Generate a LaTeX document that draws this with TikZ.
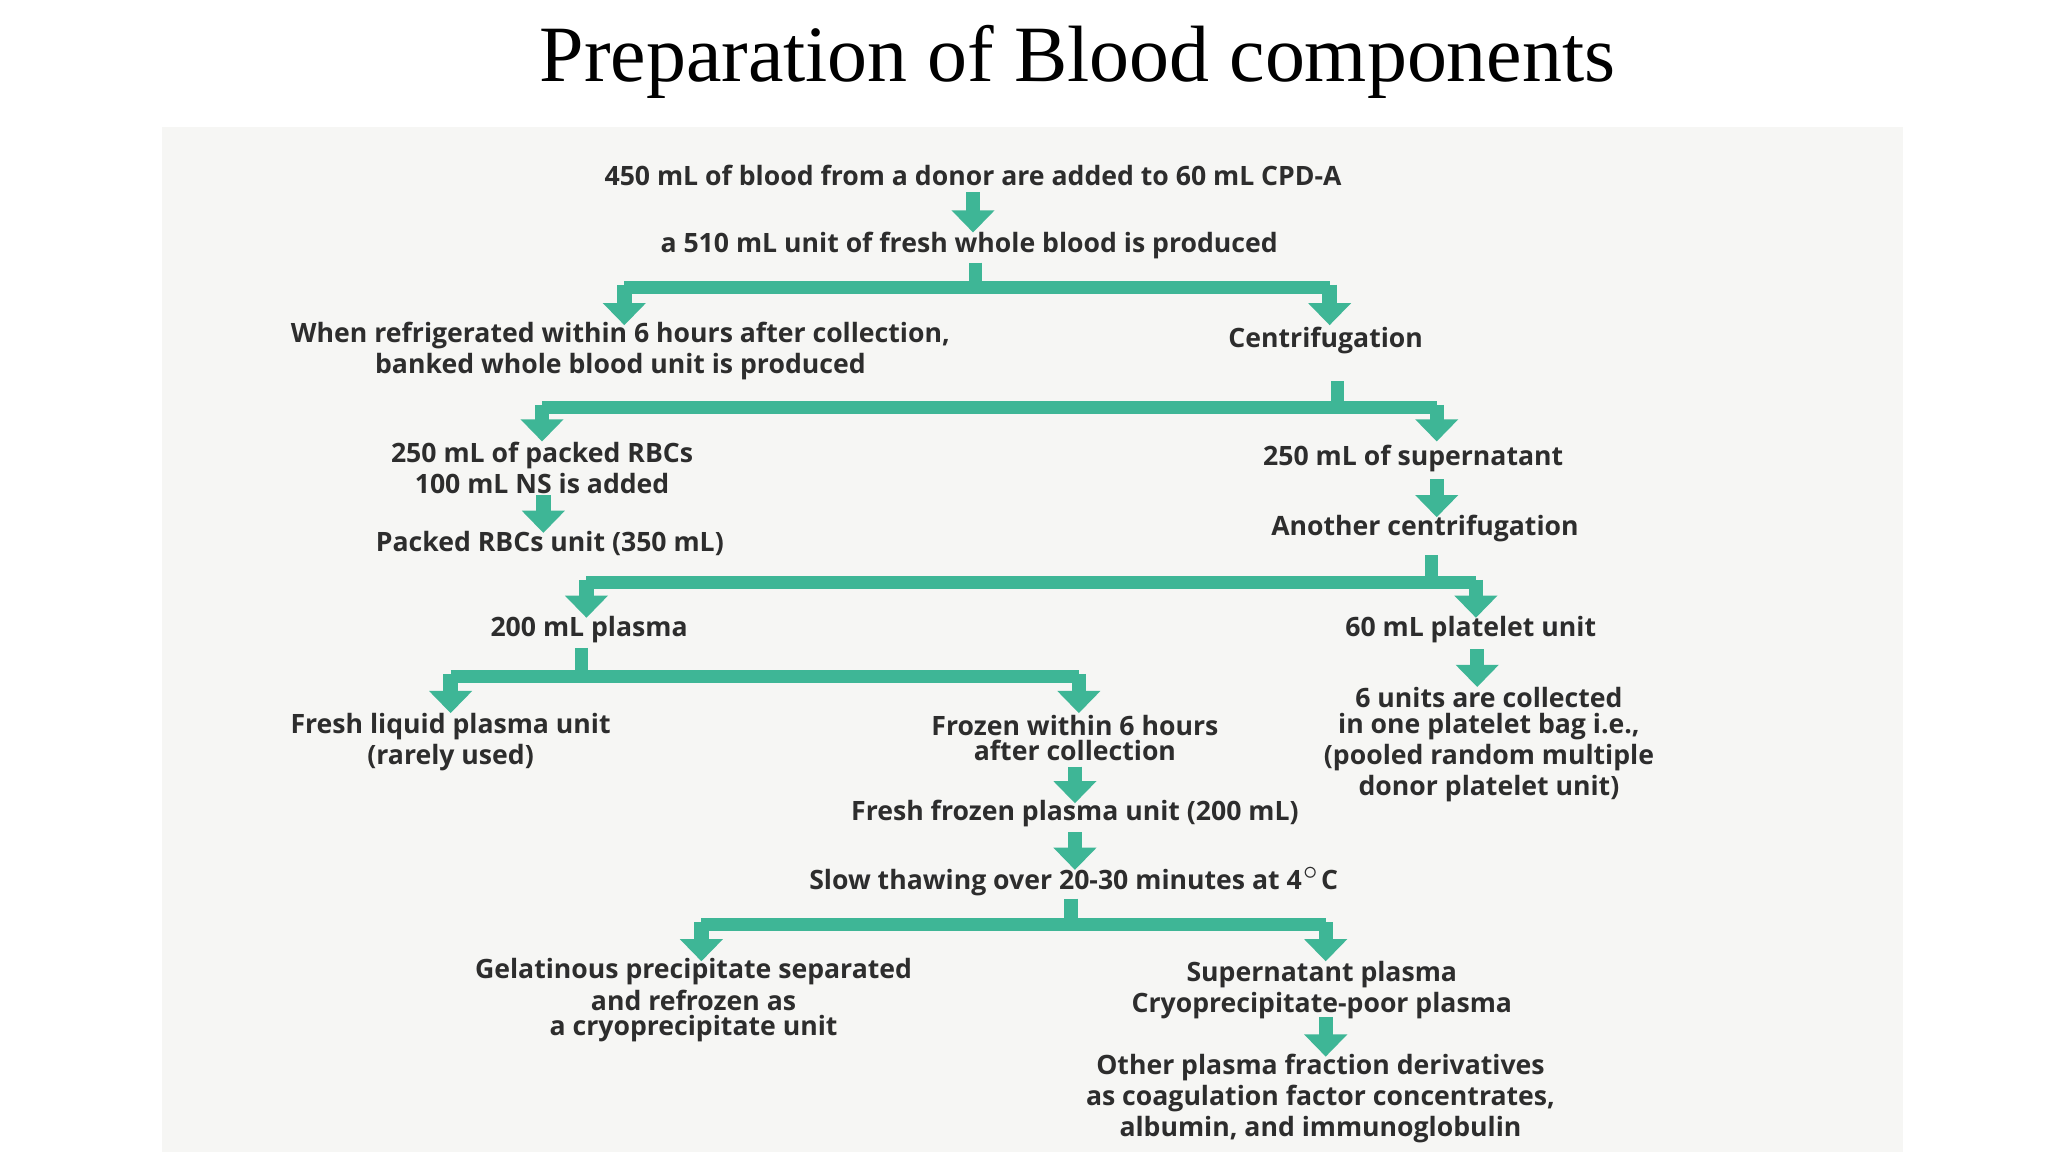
\documentclass[tikz,border=0pt]{standalone}
\usepackage{fontspec}
\setmainfont{Liberation Serif}
\newfontfamily\lblfont{Open Sans}
\usetikzlibrary{arrows.meta}
\definecolor{teal1}{RGB}{62,182,150}
\definecolor{txt}{RGB}{45,45,45}
\definecolor{panel}{RGB}{246,246,244}
\tikzset{
  lbl/.style={font=\lblfont\bfseries\fontsize{5.8}{5.6}\selectfont, text=txt, align=center, inner sep=0pt},
  bar/.style={draw=teal1, line width=1mm},
  arr/.style={draw=teal1, line width=1.1mm, -{Triangle[width=3.2mm,length=1.7mm]}},
}
\begin{document}
\begin{tikzpicture}[x=0.1mm,y=-0.1mm]
\useasboundingbox (0,0) rectangle (1568,882);
\fill[white] (0,0) rectangle (1568,882);
\fill[panel] (124,97) rectangle (1457,882);
\node[font=\fontsize{17.4}{20}\selectfont] (title) at (825,47) {Preparation of Blood components};
\node[lbl] (t0) at (745,134) {450 mL of blood from a donor are added to 60 mL CPD-A};
\node[lbl] (t1) at (742,188) {a 510 mL unit of fresh whole blood is produced};
\node[lbl] (t2) at (475,269) {When refrigerated within 6 hours after collection,\\banked whole blood unit is produced};
\node[lbl] (t3) at (1015,261) {Centrifugation};
\node[lbl] (t4) at (415,358) {250 mL of packed RBCs\\100 mL NS is added};
\node[lbl] (t5) at (1082,351) {250 mL of supernatant};
\node[lbl] (t6) at (421,416) {Packed RBCs unit (350 mL)};
\node[lbl] (t7) at (1091,405) {Another centrifugation};
\node[lbl] (t8) at (451,482) {200 mL plasma};
\node[lbl] (t9) at (1126,482) {60 mL platelet unit};
\node[lbl] (t10) at (345,568) {Fresh liquid plasma unit\\(rarely used)};
\node[lbl] (t11) at (823,565) {Frozen within 6 hours\\after collection};
\node[lbl] (t12) at (1140,570) {6 units are collected\\in one platelet bag i.e.,\\(pooled random multiple\\donor platelet unit)};
\node[lbl] (t13) at (823,623) {Fresh frozen plasma unit (200 mL)};
\node[lbl] (t14) at (822,675) {Slow thawing over 20-30 minutes at 4$^{\circ}$C};
\node[lbl] (t15) at (531,766) {Gelatinous precipitate separated\\and refrozen as\\a cryoprecipitate unit};
\node[lbl] (t16) at (1012,758) {Supernatant plasma\\Cryoprecipitate-poor plasma};
\node[lbl] (t17) at (1011,841) {Other plasma fraction derivatives\\as coagulation factor concentrates,\\albumin, and immunoglobulin};
% simple arrows
\draw[arr] (745,147) -- (745,178);
\draw[arr] (416,379) -- (416,408);
\draw[arr] (1100,367) -- (1100,396);
\draw[arr] (1131,497) -- (1131,526);
\draw[arr] (823,587) -- (823,615);
\draw[arr] (823,637) -- (823,666);
\draw[arr] (1015,779) -- (1015,809);
% branch 1
\coordinate (b1) at (747,220);
\draw[bar] (747,201) -- (b1);
\draw[bar] (478,220) -- (1018,220);
\draw[arr] (478,218) -- (478,249);
\draw[arr] (1018,218) -- (1018,249);
% branch 2
\draw[bar] (1024,292) -- (1024,313);
\draw[bar] (415,312) -- (1100,312);
\draw[arr] (415,310) -- (415,338);
\draw[arr] (1100,310) -- (1100,338);
% branch 3
\draw[bar] (1096,425) -- (1096,447);
\draw[bar] (449,446) -- (1130,446);
\draw[arr] (449,444) -- (449,473);
\draw[arr] (1130,444) -- (1130,473);
% branch 4
\draw[bar] (445,496) -- (445,519);
\draw[bar] (345,518) -- (826,518);
\draw[arr] (345,516) -- (345,546);
\draw[arr] (826,516) -- (826,546);
% branch 5
\draw[bar] (820,688) -- (820,709);
\draw[bar] (537,708) -- (1015,708);
\draw[arr] (537,706) -- (537,736);
\draw[arr] (1015,706) -- (1015,736);
\end{tikzpicture}
\end{document}
